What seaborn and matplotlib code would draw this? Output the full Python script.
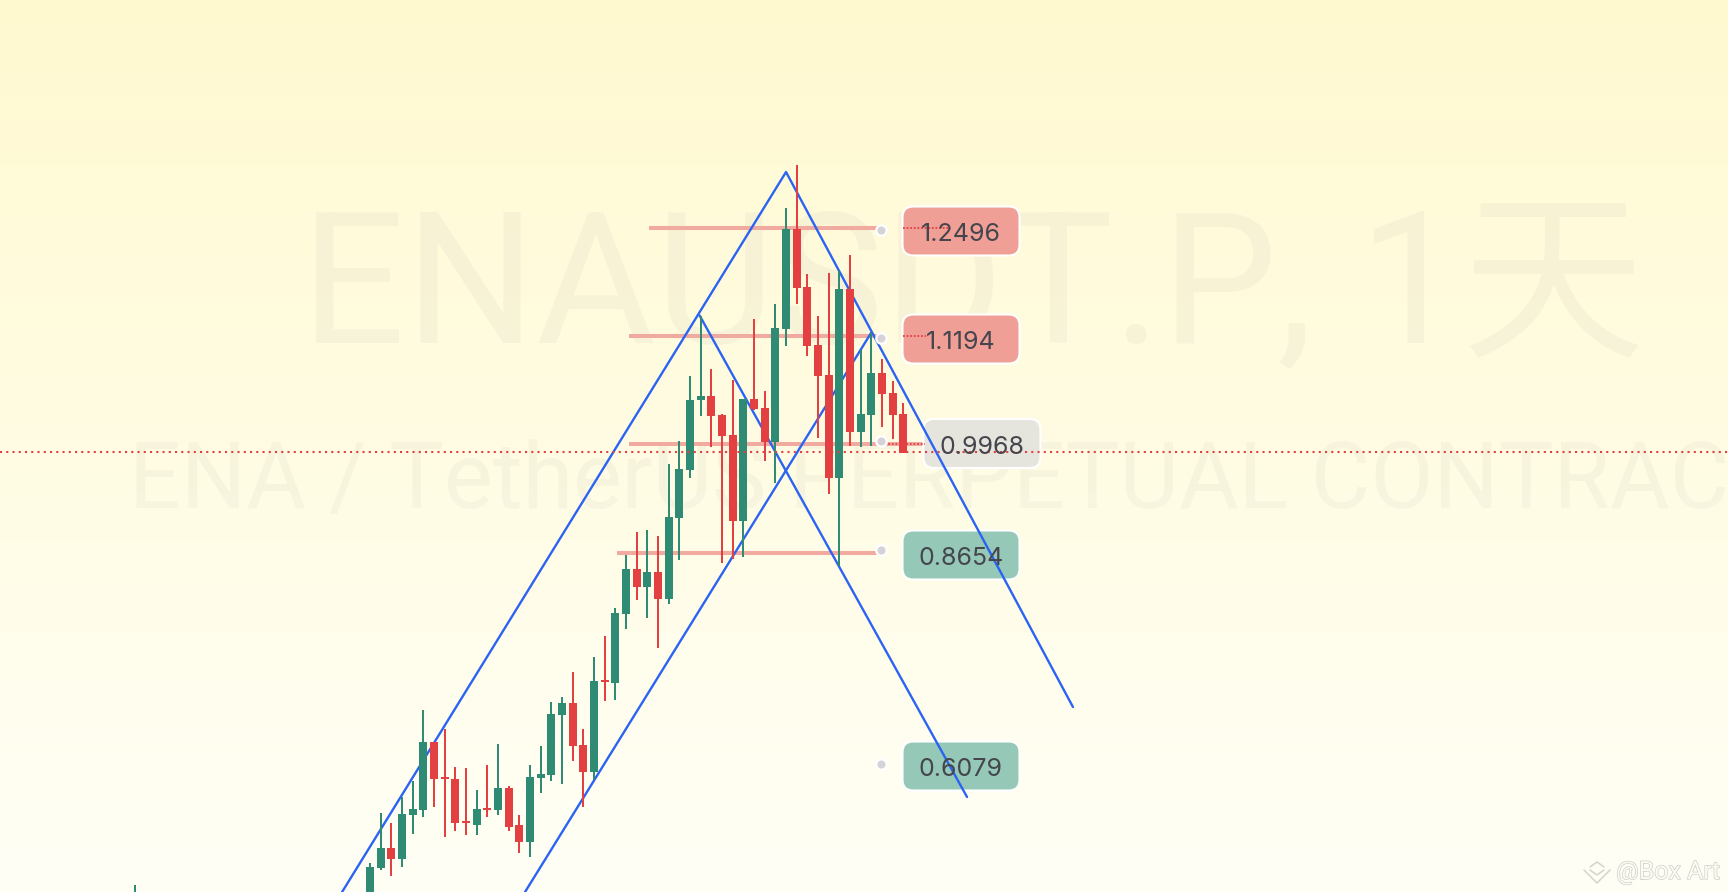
import numpy as np
import pandas as pd
import seaborn as sns
import matplotlib
matplotlib.use("Agg")
import matplotlib.pyplot as plt
import matplotlib.patheffects as pe
from matplotlib.patches import FancyBboxPatch
from matplotlib.lines import Line2D

# ---- data: daily candles (day index, open, high, low, close)
days = [-22] + list(range(0, 51))
opens = [0.42, 0.44, 0.4824, 0.5064, 0.4932, 0.546, 0.552, 0.6336, 0.5916, 0.5892, 0.5388,
         0.534, 0.5544, 0.552, 0.5784, 0.534, 0.5136, 0.5904, 0.594, 0.666, 0.6804,
         0.63, 0.5976, 0.708, 0.7044, 0.7872, 0.8412, 0.8196, 0.8376, 0.8052, 0.9024,
         0.96, 1.044, 1.0488, 1.026, 1.002, 0.8988, 1.0452, 1.0344, 0.9936, 1.1292,
         1.2492, 1.1796, 1.11, 1.074, 0.9504, 1.1772, 1.0056, 1.026, 1.0764, 1.0524, 1.0272]
highs = [0.462, 0.4884, 0.5484, 0.5364, 0.5676, 0.5868, 0.672, 0.6336, 0.6492, 0.6036, 0.6024,
         0.576, 0.606, 0.6312, 0.5808, 0.546, 0.606, 0.6288, 0.6816, 0.6876, 0.7176,
         0.6492, 0.7356, 0.7608, 0.7944, 0.858, 0.8856, 0.888, 0.8808, 0.9672, 0.9948,
         1.0728, 1.1448, 1.0812, 1.0272, 1.068, 1.0452, 1.1412, 1.0548, 1.1592, 1.2744,
         1.326, 1.1952, 1.1448, 1.1964, 1.1988, 1.218, 1.104, 1.1244, 1.0932, 1.0668, 1.0404]
lows = [0.41, 0.43, 0.48, 0.4728, 0.4836, 0.5232, 0.5436, 0.5556, 0.5196, 0.5268, 0.522,
        0.522, 0.5436, 0.546, 0.5268, 0.5004, 0.4956, 0.5724, 0.5868, 0.5832, 0.6108,
        0.5556, 0.588, 0.6828, 0.684, 0.7692, 0.804, 0.7824, 0.7464, 0.7992, 0.852,
        0.9504, 1.0248, 0.9876, 0.8484, 0.8532, 0.8556, 1.032, 0.9708, 0.9444, 1.1088,
        1.1592, 1.0968, 0.9984, 0.9312, 0.8448, 0.9888, 0.9876, 0.9888, 1.0116, 0.9972, 0.9804]
closes = [0.445, 0.4836, 0.5064, 0.4932, 0.5472, 0.5532, 0.6336, 0.5892, 0.5892, 0.5364, 0.5364,
          0.5532, 0.552, 0.5784, 0.5316, 0.5136, 0.5916, 0.5952, 0.6672, 0.6804, 0.6288,
          0.5976, 0.7068, 0.7056, 0.7884, 0.8412, 0.8196, 0.8376, 0.8052, 0.9036, 0.9612,
          1.044, 1.0488, 1.0248, 1.0008, 0.8988, 1.0452, 1.0332, 0.9936, 1.1304, 1.2492,
          1.1784, 1.1088, 1.0728, 0.9504, 1.1772, 1.0056, 1.0272, 1.0764, 1.0512, 1.026, 0.9804]

# trend channels
trend_names = ["up_a"] * 3 + ["up_b"] * 2 + ["down_c"] * 2
trend_days = [-2.62, 39.0, 65.9, 14.53, 46.97, 30.9, 55.97]
trend_prices = [0.4536, 1.3176, 0.6756, 0.4536, 1.1244, 1.1454, 0.5676]

# horizontal levels and price tags
level_prices = [1.2504, 1.1212, 0.9912, 0.8604]
level_starts = [26.2, 24.3, 24.3, 23.2]
level_ends = [47.9, 47.9, 52.0, 47.9]
handle_prices = [1.248, 1.1184, 0.9948, 0.864, 0.6072]
stub_prices = [1.2504, 1.1212, 0.9912]
stub_starts = [50.0, 50.0, 47.9]
stub_ends = [54.4, 52.1, 52.0]
tag_texts = ["1.2496", "1.1194", "0.9968", "0.8654", "0.6079"]
tag_centers = [1.2468, 1.1172, 0.9918, 0.858, 0.6048]
tag_text_prices = [1.2456, 1.116, 0.9894, 0.8568, 0.6036]
tag_lefts = [49.92, 49.92, 51.88, 49.92, 49.92]
tag_colors = ["#EF9F95", "#EF9F95", "#E5E5DD", "#95C8B7", "#95C8B7"]
last_price = 0.9816

UP, DOWN, BLUE, PINK = "#308B74", "#E34042", "#2B63F3", "#F1AAA0"

sns.set_theme(style="white")
plt.rcParams["font.family"] = ["Roboto", "Noto Sans CJK SC", "DejaVu Sans"]

fig = plt.figure(figsize=(17.28, 8.92), dpi=100)
ax = fig.add_axes([0, 0, 1, 1])
xlim = (-34.69, 127.31)
ylim = (0.4536, 1.524)

top, bottom = np.array([255, 249, 208]) / 255, np.array([255, 255, 246]) / 255
grad = np.linspace(top, bottom, 446).reshape(446, 1, 3)
ax.imshow(grad, aspect="auto", extent=[*xlim, *ylim], origin="upper", zorder=0, interpolation="bilinear")

# watermark
ax.text(56.5, 1.1124, "ENAUSDT.P, 1天", fontsize=132, color="#787B86", alpha=0.06,
        ha="center", va="baseline", zorder=1)
ax.text(-22.6, 0.9144, "ENA / TetherUS PERPETUAL CONTRACT", fontsize=66, color="#787B86", alpha=0.06,
        ha="left", va="baseline", zorder=1, clip_on=True)

# levels
for p, a, b in zip(level_prices, level_starts, level_ends):
    ax.plot([a, b], [p, p], color=PINK, lw=2.9, solid_capstyle="butt", zorder=2)

# tags
for txt, c, tp, l, col in zip(tag_texts, tag_centers, tag_text_prices, tag_lefts, tag_colors):
    ax.add_patch(FancyBboxPatch((l, c - 0.0294), 10.97, 0.0588,
                                boxstyle="round,pad=0,rounding_size=1.0",
                                mutation_aspect=0.0128, fc=col, ec="#FFFFFF", lw=1.5, zorder=3))
    ax.text(l + 5.48, tp, txt, fontsize=18, family=["Inter", "DejaVu Sans"], color="#44454D",
            ha="center", va="center_baseline", zorder=8)

# channels
trend = pd.DataFrame({"name": trend_names, "day": trend_days, "price": trend_prices})
sns.lineplot(data=trend, x="day", y="price", units="name", estimator=None, sort=False,
             color=BLUE, lw=1.7, legend=False, ax=ax, zorder=4)

# candles
df = pd.DataFrame({"day": days, "o": opens, "h": highs, "l": lows, "c": closes})
df["col"] = np.where(df.c >= df.o, UP, DOWN)
ax.vlines(df.day, df.l, df.h, colors=df.col, lw=1.44, antialiased=False, zorder=5)
ax.bar(df.day, (df.c - df.o).abs().clip(lower=0.0022), bottom=df[["o", "c"]].min(axis=1),
       width=0.75, color=df.col, lw=0, zorder=5)

# last-price line and stubs
ax.axhline(last_price, color=DOWN, lw=1.5, ls=(0, (1, 2)), zorder=6)
for p, a, b in zip(stub_prices, stub_starts, stub_ends):
    ax.plot([a, b], [p, p], color=DOWN, lw=1.3, ls=(0, (1, 1)), zorder=6)

# handles
ax.scatter([47.9] * len(handle_prices), handle_prices, s=56, fc="#D6D3D8", ec="#FFFFFF", lw=1.6, zorder=7)

ax.set_xlim(*xlim)
ax.set_ylim(*ylim)
ax.set_axis_off()

# logo signature
ax.text(1668 / 1728, 1 - 872 / 892, "@Box Art", transform=ax.transAxes, fontsize=18, color="#FBFBF4",
        ha="center", va="center", zorder=9,
        path_effects=[pe.withStroke(linewidth=1.0, foreground="#CFCFCA")])
for pts in ([(1590, 867), (1597, 862), (1604, 867)], [(1590, 870), (1597, 875), (1604, 870)],
            [(1584, 870), (1597, 883), (1610, 870)]):
    xs, ys = zip(*pts)
    fig.add_artist(Line2D(np.array(xs) / 1728, 1 - np.array(ys) / 892, color="#D4D4CE", lw=1.1,
                          transform=fig.transFigure))

fig.savefig("out.png", dpi=100)
